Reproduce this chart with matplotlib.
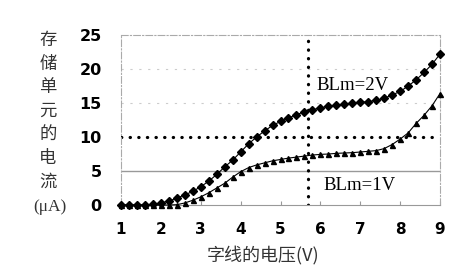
import numpy as np
import matplotlib
matplotlib.use("Agg")
import matplotlib.pyplot as plt

plt.rcParams['font.family'] = ['Noto Sans CJK SC', 'DejaVu Sans']

# 字线电压 (V)
word_line_v = [1.0, 1.2, 1.4, 1.6, 1.8, 2.0, 2.2, 2.4, 2.6, 2.8,
               3.0, 3.2, 3.4, 3.6, 3.8, 4.0, 4.2, 4.4, 4.6, 4.8,
               5.0, 5.2, 5.4, 5.6, 5.8, 6.0, 6.2, 6.4, 6.6, 6.8,
               7.0, 7.2, 7.4, 7.6, 7.8, 8.0, 8.2, 8.4, 8.6, 8.8, 9.0]

# BLm=2V 存储单元电流 (uA)
blm_2v = [0, 0, 0, 0, 0.1, 0.3, 0.6, 1.0, 1.5, 2.0,
          2.7, 3.5, 4.5, 5.6, 6.6, 7.8, 9.0, 10.0, 10.9, 11.7,
          12.3, 12.8, 13.3, 13.7, 14.0, 14.3, 14.5, 14.7, 14.85, 15.0,
          15.1, 15.2, 15.4, 15.7, 16.2, 16.7, 17.5, 18.4, 19.5, 20.7, 22.2]

# BLm=1V
blm_1v = [0, 0, 0, 0, 0, 0, 0, 0.05, 0.3, 0.7,
          1.2, 1.8, 2.5, 3.2, 4.1, 4.9, 5.5, 5.9, 6.2, 6.5,
          6.7, 6.9, 7.05, 7.2, 7.35, 7.45, 7.5, 7.6, 7.65, 7.7,
          7.8, 7.9, 8.0, 8.3, 8.9, 9.7, 10.6, 12.0, 13.2, 14.6, 16.4]

x_ticks = [1, 2, 3, 4, 5, 6, 7, 8, 9]
y_ticks = [0, 5, 10, 15, 20, 25]
ylabel_chars = ['存', '储', '单', '元', '的', '电', '流']

fig = plt.figure(figsize=(4.74, 2.75), dpi=100)
ax = fig.add_axes([0.2553, 0.2545, 0.673, 0.618])

ax.set_xlim(1, 9)
ax.set_ylim(0, 25)

# frame and faint grid
for side in ['left', 'right', 'top']:
    ax.spines[side].set_color('#aaaaaa')
    ax.spines[side].set_linestyle((0, (6, 2, 1, 2)))
    ax.spines[side].set_linewidth(0.8)
ax.spines['bottom'].set_color('#999999')
ax.spines['bottom'].set_linewidth(0.8)
for yv in [15, 20]:
    ax.axhline(yv, color='#cccccc', lw=0.8, ls=(0, (2, 6)))

# reference lines
ax.axhline(5, color='#999999', lw=1.0)
dot = (0, (0.1, 2.6))
ax.plot([1, 8.85], [10, 10], color='black', lw=2.3, ls=dot, dash_capstyle='round')
ax.plot([5.68, 5.68], [0, 24.7], color='black', lw=2.3, ls=dot, dash_capstyle='round')

# curves
ax.plot(word_line_v, blm_1v, color='black', lw=0.8, marker='^', ms=3.6,
        clip_on=False, zorder=3)
ax.plot(word_line_v, blm_2v, color='black', lw=0.8, marker='D', ms=4.4,
        clip_on=False, zorder=4)

ax.text(5.9, 17.6, 'BLm=2V', family='Liberation Serif', fontsize=13.5,
        va='center', ha='left')
ax.text(6.07, 2.9, 'BLm=1V', family='Liberation Serif', fontsize=13.5,
        va='center', ha='left')

ax.set_xticks(x_ticks)
ax.set_yticks(y_ticks)
ax.set_xticklabels([str(t) for t in x_ticks], family='DejaVu Sans',
                   fontweight='bold', fontsize=11)
ax.set_yticklabels([str(t) for t in y_ticks], family='DejaVu Sans',
                   fontweight='bold', fontsize=11.5)
ax.tick_params(axis='x', direction='in', length=3, color='#999999', pad=12)
ax.tick_params(axis='y', length=0, pad=14)

# y label, stacked characters
for i, ch in enumerate(ylabel_chars):
    fig.text(48 / 474, 1 - (40 + i * 23.7) / 275, ch, fontsize=12.5,
             color='#333333', ha='center', va='center')
fig.text(50 / 474, 1 - 207 / 275, '(μA)', fontsize=12.5, color='#333333',
         ha='center', va='center', family=['Liberation Serif', 'DejaVu Sans'])

fig.text(263 / 474, 1 - 255 / 275, '字线的电压(V)', fontsize=13,
         color='#333333', ha='center', va='center')

fig.savefig('out.png', dpi=100, facecolor='white')
